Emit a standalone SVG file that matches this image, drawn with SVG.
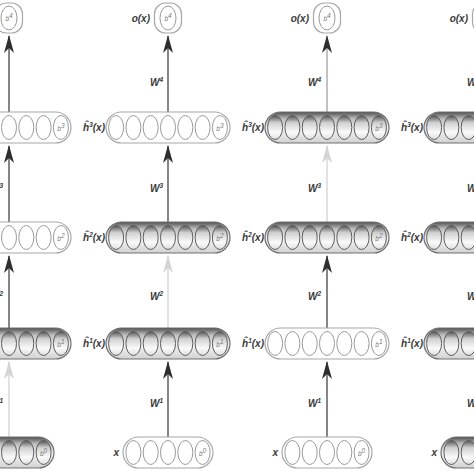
<svg xmlns="http://www.w3.org/2000/svg" xmlns:xlink="http://www.w3.org/1999/xlink" width="474" height="474" viewBox="0 0 474 474">
<style>
.lbl{font-family:"Liberation Sans",Arial,sans-serif;font-style:italic;font-weight:bold;font-size:10px;fill:#3a3a3a}
.sup{font-size:6.5px}
.bias{font-family:"Liberation Sans",Arial,sans-serif;font-style:italic;font-size:6.5px;fill:#777}
.boxP{fill:#ffffff;stroke:#a8a8a8;stroke-width:1.2}
.boxS{fill:url(#gBox);stroke:#707070;stroke-width:1.2}
.cirP{fill:#ffffff;stroke:#9a9a9a;stroke-width:1}
.cirS{fill:url(#gCir);stroke:#5e5e5e;stroke-width:1}
.ad{stroke:#444;stroke-width:1.3;fill:none;marker-end:url(#mD)}
.am{stroke:#999;stroke-width:1.2;fill:none;marker-end:url(#mD)}
.al{stroke:#cfcfcf;stroke-width:1.2;fill:none;marker-end:url(#mL)}
</style>
<defs>
<linearGradient id="gBox" x1="0" y1="0" x2="0" y2="1">
<stop offset="0" stop-color="#4e4e4e"/>
<stop offset="0.22" stop-color="#bdbdbd"/>
<stop offset="0.55" stop-color="#f3f3f3"/>
<stop offset="1" stop-color="#d2d2d2"/>
</linearGradient>
<linearGradient id="gCir" x1="0" y1="0" x2="0" y2="1">
<stop offset="0" stop-color="#505050"/>
<stop offset="0.3" stop-color="#d0d0d0"/>
<stop offset="0.7" stop-color="#fafafa"/>
<stop offset="1" stop-color="#dedede"/>
</linearGradient>
<marker id="mD" markerUnits="userSpaceOnUse" markerWidth="18" markerHeight="10" viewBox="0 0 18 10" refX="17" refY="5" orient="auto">
<path d="M0,0 L18,5 L0,10 L5,5 z" fill="#2e2e2e"/>
</marker>
<marker id="mL" markerUnits="userSpaceOnUse" markerWidth="18" markerHeight="10" viewBox="0 0 18 10" refX="17" refY="5" orient="auto">
<path d="M0,0 L18,5 L0,10 L5,5 z" fill="#d4d4d4"/>
</marker>
<g id="c7">
<ellipse cx="-51.9" cy="0" rx="7.5" ry="12"/><ellipse cx="-34.6" cy="0" rx="7.5" ry="12"/><ellipse cx="-17.3" cy="0" rx="7.5" ry="12"/><ellipse cx="0" cy="0" rx="7.5" ry="12"/><ellipse cx="17.3" cy="0" rx="7.5" ry="12"/><ellipse cx="34.6" cy="0" rx="7.5" ry="12"/><ellipse cx="51.9" cy="0" rx="7.5" ry="12"/>
</g>
<g id="c5">
<ellipse cx="-34.6" cy="0" rx="7.5" ry="12"/><ellipse cx="-17.3" cy="0" rx="7.5" ry="12"/><ellipse cx="0" cy="0" rx="7.5" ry="12"/><ellipse cx="17.3" cy="0" rx="7.5" ry="12"/><ellipse cx="34.6" cy="0" rx="7.5" ry="12"/>
</g>
</defs>
<rect width="474" height="474" fill="#ffffff"/>

<g id="connectors">
<line class="al" x1="9" y1="437" x2="9" y2="362"/>
<line class="ad" x1="9" y1="328" x2="9" y2="256"/>
<line class="ad" x1="9" y1="222" x2="9" y2="146"/>
<line class="ad" x1="9" y1="112" x2="9" y2="36"/>
<line class="ad" x1="168" y1="437" x2="168" y2="362"/>
<line class="al" x1="168" y1="328" x2="168" y2="256"/>
<line class="ad" x1="168" y1="222" x2="168" y2="146"/>
<line class="ad" x1="168" y1="112" x2="168" y2="36"/>
<line class="ad" x1="327" y1="437" x2="327" y2="362"/>
<line class="ad" x1="327" y1="328" x2="327" y2="256"/>
<line class="al" x1="327" y1="222" x2="327" y2="146"/>
<line class="am" x1="327" y1="112" x2="327" y2="36"/>
</g>

<g id="weight-labels">
<text class="lbl" x="3" y="407" text-anchor="end">W<tspan class="sup" dy="-4">1</tspan></text>
<text class="lbl" x="3" y="300" text-anchor="end">W<tspan class="sup" dy="-4">2</tspan></text>
<text class="lbl" x="3" y="192" text-anchor="end">W<tspan class="sup" dy="-4">3</tspan></text>
<text class="lbl" x="163" y="407" text-anchor="end">W<tspan class="sup" dy="-4">1</tspan></text>
<text class="lbl" x="163" y="300" text-anchor="end">W<tspan class="sup" dy="-4">2</tspan></text>
<text class="lbl" x="163" y="192" text-anchor="end">W<tspan class="sup" dy="-4">3</tspan></text>
<text class="lbl" x="163" y="86" text-anchor="end">W<tspan class="sup" dy="-4">4</tspan></text>
<text class="lbl" x="321" y="407" text-anchor="end">W<tspan class="sup" dy="-4">1</tspan></text>
<text class="lbl" x="321" y="300" text-anchor="end">W<tspan class="sup" dy="-4">2</tspan></text>
<text class="lbl" x="321" y="192" text-anchor="end">W<tspan class="sup" dy="-4">3</tspan></text>
<text class="lbl" x="321" y="86" text-anchor="end">W<tspan class="sup" dy="-4">4</tspan></text>
<text class="lbl" x="480" y="407" text-anchor="end">W<tspan class="sup" dy="-4">1</tspan></text>
<text class="lbl" x="480" y="300" text-anchor="end">W<tspan class="sup" dy="-4">2</tspan></text>
<text class="lbl" x="480" y="192" text-anchor="end">W<tspan class="sup" dy="-4">3</tspan></text>
<text class="lbl" x="480" y="86" text-anchor="end">W<tspan class="sup" dy="-4">4</tspan></text>
</g>

<!-- Column 1 -->
<g id="c1-out"><rect class="boxP" x="-4.5" y="3" width="27" height="30" rx="11"/><ellipse class="cirP" cx="9" cy="18" rx="8" ry="12"/><text class="bias" x="9" y="21" text-anchor="middle">b<tspan dy="-3">4</tspan></text></g>
<g id="c1-h3"><rect class="boxP" x="-53" y="112" width="124" height="31" rx="15.5"/><use href="#c7" x="9" y="127.5" class="cirP"/><text class="bias" x="60.9" y="130.5" text-anchor="middle">b<tspan dy="-3">3</tspan></text></g>
<g id="c1-h2"><rect class="boxP" x="-53" y="222" width="124" height="31" rx="15.5"/><use href="#c7" x="9" y="237.5" class="cirP"/><text class="bias" x="60.9" y="240.5" text-anchor="middle">b<tspan dy="-3">2</tspan></text></g>
<g id="c1-h1"><rect class="boxS" x="-53" y="328" width="124" height="31" rx="15.5"/><use href="#c7" x="9" y="343.5" class="cirS"/><text class="bias" x="60.9" y="346.5" text-anchor="middle">b<tspan dy="-3">1</tspan></text></g>
<g id="c1-x"><rect class="boxS" x="-36" y="437" width="90" height="31" rx="15.5"/><use href="#c5" x="9" y="452.5" class="cirS"/><text class="bias" x="43.6" y="455.5" text-anchor="middle">b<tspan dy="-3">0</tspan></text></g>

<!-- Column 2 -->
<g id="c2-out"><text class="lbl" x="150" y="22" text-anchor="end">o(x)</text><rect class="boxP" x="154.5" y="3" width="27" height="30" rx="11"/><ellipse class="cirP" cx="168" cy="18" rx="8" ry="12"/><text class="bias" x="168" y="21" text-anchor="middle">b<tspan dy="-3">4</tspan></text></g>
<g id="c2-h3"><text class="lbl" x="105" y="131" text-anchor="end">ĥ<tspan class="sup" dy="-4">3</tspan><tspan dy="4">(x)</tspan></text><rect class="boxP" x="106" y="112" width="124" height="31" rx="15.5"/><use href="#c7" x="168" y="127.5" class="cirP"/><text class="bias" x="219.9" y="130.5" text-anchor="middle">b<tspan dy="-3">3</tspan></text></g>
<g id="c2-h2"><text class="lbl" x="105" y="241" text-anchor="end">ĥ<tspan class="sup" dy="-4">2</tspan><tspan dy="4">(x)</tspan></text><rect class="boxS" x="106" y="222" width="124" height="31" rx="15.5"/><use href="#c7" x="168" y="237.5" class="cirS"/><text class="bias" x="219.9" y="240.5" text-anchor="middle">b<tspan dy="-3">2</tspan></text></g>
<g id="c2-h1"><text class="lbl" x="105" y="347" text-anchor="end">ĥ<tspan class="sup" dy="-4">1</tspan><tspan dy="4">(x)</tspan></text><rect class="boxS" x="106" y="328" width="124" height="31" rx="15.5"/><use href="#c7" x="168" y="343.5" class="cirS"/><text class="bias" x="219.9" y="346.5" text-anchor="middle">b<tspan dy="-3">1</tspan></text></g>
<g id="c2-x"><text class="lbl" x="119" y="456" text-anchor="end">x</text><rect class="boxP" x="123" y="437" width="90" height="31" rx="15.5"/><use href="#c5" x="168" y="452.5" class="cirP"/><text class="bias" x="202.6" y="455.5" text-anchor="middle">b<tspan dy="-3">0</tspan></text></g>

<!-- Column 3 -->
<g id="c3-out"><text class="lbl" x="309" y="22" text-anchor="end">o(x)</text><rect class="boxP" x="313.5" y="3" width="27" height="30" rx="11"/><ellipse class="cirP" cx="327" cy="18" rx="8" ry="12"/><text class="bias" x="327" y="21" text-anchor="middle">b<tspan dy="-3">4</tspan></text></g>
<g id="c3-h3"><text class="lbl" x="264" y="131" text-anchor="end">ĥ<tspan class="sup" dy="-4">3</tspan><tspan dy="4">(x)</tspan></text><rect class="boxS" x="265" y="112" width="124" height="31" rx="15.5"/><use href="#c7" x="327" y="127.5" class="cirS"/><text class="bias" x="378.9" y="130.5" text-anchor="middle">b<tspan dy="-3">3</tspan></text></g>
<g id="c3-h2"><text class="lbl" x="264" y="241" text-anchor="end">ĥ<tspan class="sup" dy="-4">2</tspan><tspan dy="4">(x)</tspan></text><rect class="boxS" x="265" y="222" width="124" height="31" rx="15.5"/><use href="#c7" x="327" y="237.5" class="cirS"/><text class="bias" x="378.9" y="240.5" text-anchor="middle">b<tspan dy="-3">2</tspan></text></g>
<g id="c3-h1"><text class="lbl" x="264" y="347" text-anchor="end">ĥ<tspan class="sup" dy="-4">1</tspan><tspan dy="4">(x)</tspan></text><rect class="boxP" x="265" y="328" width="124" height="31" rx="15.5"/><use href="#c7" x="327" y="343.5" class="cirP"/><text class="bias" x="378.9" y="346.5" text-anchor="middle">b<tspan dy="-3">1</tspan></text></g>
<g id="c3-x"><text class="lbl" x="278" y="456" text-anchor="end">x</text><rect class="boxP" x="282" y="437" width="90" height="31" rx="15.5"/><use href="#c5" x="327" y="452.5" class="cirP"/><text class="bias" x="361.6" y="455.5" text-anchor="middle">b<tspan dy="-3">0</tspan></text></g>

<!-- Column 4 -->
<g id="c4-out"><text class="lbl" x="468" y="22" text-anchor="end">o(x)</text><rect class="boxP" x="472.5" y="3" width="27" height="30" rx="11"/><ellipse class="cirP" cx="486" cy="18" rx="8" ry="12"/></g>
<g id="c4-h3"><text class="lbl" x="423" y="131" text-anchor="end">ĥ<tspan class="sup" dy="-4">3</tspan><tspan dy="4">(x)</tspan></text><rect class="boxS" x="424" y="112" width="124" height="31" rx="15.5"/><use href="#c7" x="486" y="127.5" class="cirS"/></g>
<g id="c4-h2"><text class="lbl" x="423" y="241" text-anchor="end">ĥ<tspan class="sup" dy="-4">2</tspan><tspan dy="4">(x)</tspan></text><rect class="boxS" x="424" y="222" width="124" height="31" rx="15.5"/><use href="#c7" x="486" y="237.5" class="cirS"/></g>
<g id="c4-h1"><text class="lbl" x="423" y="347" text-anchor="end">ĥ<tspan class="sup" dy="-4">1</tspan><tspan dy="4">(x)</tspan></text><rect class="boxS" x="424" y="328" width="124" height="31" rx="15.5"/><use href="#c7" x="486" y="343.5" class="cirS"/></g>
<g id="c4-x"><text class="lbl" x="437" y="456" text-anchor="end">x</text><rect class="boxS" x="441" y="437" width="90" height="31" rx="15.5"/><use href="#c5" x="486" y="452.5" class="cirS"/></g>
</svg>
